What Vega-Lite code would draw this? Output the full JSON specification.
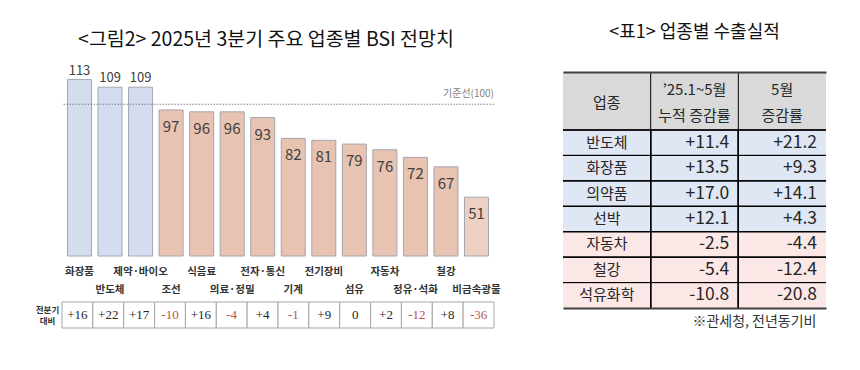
{
  "$schema": "https://vega.github.io/schema/vega-lite/v6.json",
  "background": "white",
  "padding": {"left": 35, "top": 23, "right": 5, "bottom": 5},
  "config": {"view": {"stroke": null}, "font": "Noto Sans CJK KR"},
  "datasets": {
    "bsi": [
      {"업종": "화장품", "BSI": 113, "전분기대비": 16},
      {"업종": "반도체", "BSI": 109, "전분기대비": 22},
      {"업종": "제약·바이오", "BSI": 109, "전분기대비": 17},
      {"업종": "조선", "BSI": 97, "전분기대비": -10},
      {"업종": "식음료", "BSI": 96, "전분기대비": 16},
      {"업종": "의료·정밀", "BSI": 96, "전분기대비": -4},
      {"업종": "전자·통신", "BSI": 93, "전분기대비": 4},
      {"업종": "기계", "BSI": 82, "전분기대비": -1},
      {"업종": "전기장비", "BSI": 81, "전분기대비": 9},
      {"업종": "섬유", "BSI": 79, "전분기대비": 0},
      {"업종": "자동차", "BSI": 76, "전분기대비": 2},
      {"업종": "정유·석화", "BSI": 72, "전분기대비": -12},
      {"업종": "철강", "BSI": 67, "전분기대비": 8},
      {"업종": "비금속광물", "BSI": 51, "전분기대비": -36}
    ],
    "header": [
      {"col": "업종", "lines": ["업종"]},
      {"col": "누적", "lines": ["’25.1~5월", "누적 증감률"]},
      {"col": "5월", "lines": ["5월", "증감률"]}
    ],
    "exports": [
      {"업종": "반도체", "누적 증감률": 11.4, "5월 증감률": 21.2},
      {"업종": "화장품", "누적 증감률": 13.5, "5월 증감률": 9.3},
      {"업종": "의약품", "누적 증감률": 17.0, "5월 증감률": 14.1},
      {"업종": "선박", "누적 증감률": 12.1, "5월 증감률": 4.3},
      {"업종": "자동차", "누적 증감률": -2.5, "5월 증감률": -4.4},
      {"업종": "철강", "누적 증감률": -5.4, "5월 증감률": -12.4},
      {"업종": "석유화학", "누적 증감률": -10.8, "5월 증감률": -20.8}
    ]
  },
  "bounds": "full",
  "spacing": 61,
  "hconcat": [
    {
      "bounds": "flush",
      "spacing": 46,
      "vconcat": [
        {
          "width": 432,
          "height": 184,
          "title": {"text": "<그림2> 2025년 3분기 주요 업종별 BSI 전망치", "fontSize": 19.5, "fontWeight": "normal", "color": "#111111", "anchor": "middle", "baseline": "alphabetic", "offset": 2, "dy": 3, "dx": -12},
          "data": {"name": "bsi"},
          "layer": [
            {
              "mark": {"type": "bar", "stroke": "#a2a6b0", "strokeWidth": 1},
              "encoding": {
                "x": {"field": "업종", "type": "nominal", "sort": null,
                  "scale": {"paddingInner": 0.214, "paddingOuter": 0.18},
                  "axis": {"title": null, "domain": false, "ticks": false, "labelAngle": 0,
                    "labelFontSize": 10.5, "labelFontWeight": "bold", "labelColor": "#333333",
                    "labelOverlap": false, "labelLimit": 0,
                    "labelPadding": {"condition": {"test": "round(datum.index*13) % 2 == 1", "value": 28}, "value": 10}}},
                "y": {"field": "BSI", "type": "quantitative", "scale": {"domain": [20, 117], "nice": false, "zero": false}, "axis": null},
                "y2": {"datum": 20},
                "fill": {"condition": [{"test": "datum.BSI > 100", "value": "#d4ddf0"}, {"test": "datum.BSI < 60", "value": "#eed0c2"}], "value": "#e8c3b1"}
              }
            },
            {
              "data": {"values": [{"기준": 100}]},
              "mark": {"type": "rule", "strokeDash": [1.5, 1.5], "color": "#7f7f7f", "strokeWidth": 1},
              "encoding": {"y": {"field": "기준", "type": "quantitative"}}
            },
            {
              "data": {"values": [{"기준": 100}]},
              "mark": {"type": "text", "align": "right", "baseline": "middle", "dy": -10, "fontSize": 10, "color": "#808080", "text": "기준선(100)"},
              "encoding": {"x": {"value": "width"}, "y": {"field": "기준", "type": "quantitative"}}
            },
            {
              "transform": [{"filter": "datum.BSI > 100"}],
              "mark": {"type": "text", "baseline": "bottom", "dy": -2, "fontSize": 13, "color": "#404040"},
              "encoding": {
                "x": {"field": "업종", "type": "nominal", "sort": null},
                "y": {"field": "BSI", "type": "quantitative"},
                "text": {"field": "BSI", "type": "quantitative"}
              }
            },
            {
              "transform": [{"filter": "datum.BSI <= 100"}],
              "mark": {"type": "text", "baseline": "middle", "dy": 17, "fontSize": 15, "color": "#404040"},
              "encoding": {
                "x": {"field": "업종", "type": "nominal", "sort": null},
                "y": {"field": "BSI", "type": "quantitative"},
                "text": {"field": "BSI", "type": "quantitative"}
              }
            }
          ]
        },
        {
          "width": 432,
          "height": 26,
          "data": {"name": "bsi"},
          "transform": [
            {"calculate": "datum['전분기대비'] > 0 ? '+' + datum['전분기대비'] : '' + datum['전분기대비']", "as": "chgText"},
            {"calculate": "'전분기 대비'", "as": "행"}
          ],
          "encoding": {
            "x": {"field": "업종", "type": "nominal", "sort": null, "scale": {"padding": 0}, "axis": null},
            "y": {"field": "행", "type": "nominal", "scale": {"padding": 0},
              "axis": {"title": null, "domain": false, "ticks": false, "labelFontSize": 8.5, "labelFontWeight": "bold",
                "labelColor": "#333333", "labelAlign": "center", "labelPadding": 15, "labelLineHeight": 11, "labelOffset": -5.5,
                "labelExpr": "split(datum.label, ' ')"}}
          },
          "layer": [
            {"mark": {"type": "rect", "fill": "white", "stroke": "#a6a6a6", "strokeWidth": 1}},
            {
              "mark": {"type": "text", "font": "Liberation Serif", "fontSize": 13},
              "encoding": {
                "text": {"field": "chgText", "type": "nominal"},
                "color": {"condition": {"test": "datum['전분기대비'] < 0", "value": "#c0504d"}, "value": "#262626"}
              }
            }
          ]
        }
      ]
    },
    {
      "title": {"text": "<표1> 업종별 수출실적", "fontSize": 18, "fontWeight": "normal", "color": "#111111", "anchor": "middle", "baseline": "alphabetic", "offset": 17, "dy": 1},
      "bounds": "flush",
      "spacing": 0,
      "vconcat": [
        {
          "width": 263,
          "height": 58,
          "data": {"name": "header"},
          "layer": [
            {
              "mark": {"type": "rect", "fill": "#d9d9d9"},
              "encoding": {
                "x": {"field": "col", "type": "nominal", "sort": null, "scale": {"padding": 0},
                  "axis": {"orient": "top", "title": null, "labels": false, "ticks": false, "domain": true, "domainColor": "#404040", "domainWidth": 2}}
              }
            },
            {
              "transform": [{"filter": "datum.col != '업종'"}],
              "mark": {"type": "rule", "color": "#000000", "strokeWidth": 1},
              "encoding": {"x": {"field": "col", "type": "nominal", "sort": null, "bandPosition": 0}}
            },
            {
              "transform": [{"filter": "length(datum.lines) == 1"}],
              "mark": {"type": "text", "baseline": "middle", "dy": 2, "fontSize": 15, "color": "#262626"},
              "encoding": {
                "x": {"field": "col", "type": "nominal", "sort": null},
                "text": {"field": "lines", "type": "nominal"}
              }
            },
            {
              "transform": [{"filter": "length(datum.lines) > 1"}],
              "mark": {"type": "text", "baseline": "middle", "dy": -11, "lineHeight": 26, "fontSize": 15, "color": "#262626"},
              "encoding": {
                "x": {"field": "col", "type": "nominal", "sort": null},
                "text": {"field": "lines", "type": "nominal"}
              }
            }
          ]
        },
        {
          "width": 263,
          "height": 178,
          "data": {"name": "exports"},
          "transform": [
            {"calculate": "(datum['누적 증감률'] > 0 ? '+' : '-') + format(abs(datum['누적 증감률']), '.1f')", "as": "누적"},
            {"calculate": "(datum['5월 증감률'] > 0 ? '+' : '-') + format(abs(datum['5월 증감률']), '.1f')", "as": "5월"},
            {"calculate": "datum['업종']", "as": "이름"},
            {"fold": ["이름", "누적", "5월"], "as": ["col", "txt"]}
          ],
          "layer": [
            {
              "mark": {"type": "rect"},
              "encoding": {
                "x": {"field": "col", "type": "nominal", "sort": null, "scale": {"padding": 0},
                  "axis": {"orient": "bottom", "labels": false, "ticks": false, "domain": true, "domainColor": "#404040", "domainWidth": 2,
                    "title": "※관세청, 전년동기비", "titleFontSize": 14, "titleFontWeight": "normal", "titleColor": "#333333",
                    "titleAlign": "right", "titleX": 253, "titlePadding": 6}},
                "y": {"field": "업종", "type": "nominal", "sort": null, "scale": {"padding": 0}, "axis": null},
                "fill": {"condition": {"test": "datum['누적 증감률'] > 0", "value": "#dfe7f4"}, "value": "#fbe8e6"}
              }
            },
            {
              "mark": {"type": "rule", "color": "#000000", "strokeWidth": 1},
              "encoding": {"y": {"field": "업종", "type": "nominal", "sort": null, "bandPosition": 0}}
            },
            {
              "transform": [{"filter": "datum.col != '이름'"}],
              "mark": {"type": "rule", "color": "#000000", "strokeWidth": 1},
              "encoding": {"x": {"field": "col", "type": "nominal", "sort": null, "bandPosition": 0}}
            },
            {
              "transform": [{"filter": "datum.col == '이름'"}],
              "mark": {"type": "text", "baseline": "middle", "fontSize": 15, "color": "#262626"},
              "encoding": {
                "x": {"field": "col", "type": "nominal", "sort": null},
                "y": {"field": "업종", "type": "nominal", "sort": null},
                "text": {"field": "txt", "type": "nominal"}
              }
            },
            {
              "transform": [{"filter": "datum.col != '이름'"}],
              "mark": {"type": "text", "baseline": "middle", "align": "right", "dx": -9, "fontSize": 17.5, "color": "#262626"},
              "encoding": {
                "x": {"field": "col", "type": "nominal", "sort": null, "bandPosition": 1},
                "y": {"field": "업종", "type": "nominal", "sort": null},
                "text": {"field": "txt", "type": "nominal"}
              }
            }
          ]
        }
      ]
    }
  ]
}
